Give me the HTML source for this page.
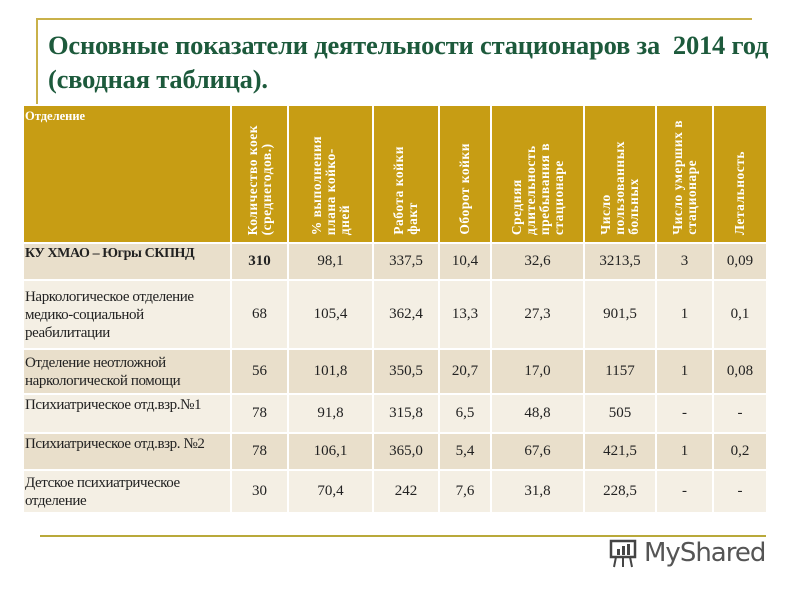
<!DOCTYPE html>
<html><head><meta charset="utf-8"><style>
body{margin:0;width:800px;height:600px;background:#fff;position:relative;overflow:hidden;font-family:"Liberation Serif","Noto Serif CJK SC",serif}
.abs{position:absolute}
.title{left:48px;top:28px;color:#1d5a3c;font-size:26.5px;line-height:34px;font-weight:bold;letter-spacing:-0.2px;white-space:nowrap}
table{position:absolute;left:22px;top:104px;border-collapse:collapse;width:744px;table-layout:fixed}
td{border:2px solid #fff;padding:0;font-size:15px;color:#222;text-align:center;vertical-align:middle;overflow:hidden}
th{border:2px solid #fff;background:#c79d14;color:#fff;height:130px;padding:0;vertical-align:bottom;font-size:13.5px;font-weight:bold;overflow:hidden}
th.first{text-align:left;vertical-align:top;font-size:12.5px;padding:3px 1px}
.v{writing-mode:vertical-rl;transform:rotate(180deg);display:inline-block;text-align:left;line-height:14px;padding:3px 0;letter-spacing:0.5px}
tr.d td{background:#e9dfcb}
tr.l td{background:#f4efe4}
td.n{text-align:left;padding:1px 1px;line-height:18px;font-size:15px;letter-spacing:-0.4px}
</style></head><body>
<div class="abs" style="left:36px;top:18px;width:716px;height:2px;background:#c9b14a"></div>
<div class="abs" style="left:36px;top:18px;width:2px;height:92px;background:#c9b14a"></div>
<div class="abs title">Основные показатели деятельности стационаров за&nbsp; 2014 год<br>(сводная таблица).</div>
<table>
<colgroup><col style="width:208px"><col style="width:57px"><col style="width:85px"><col style="width:66px"><col style="width:52px"><col style="width:93px"><col style="width:72px"><col style="width:57px"><col style="width:54px"></colgroup>
<tr>
<th class="first">Отделение</th>
<th><span class="v">Количество коек<br>(среднегодов.)</span></th>
<th><span class="v">% выполнения<br>плана койко-<br>дней</span></th>
<th><span class="v">Работа койки<br>факт</span></th>
<th><span class="v">Оборот койки</span></th>
<th><span class="v">Средняя<br>длительность<br>пребывания в<br>стационаре</span></th>
<th><span class="v">Число<br>пользованных<br>больных</span></th>
<th><span class="v">Число умерших в<br>стационаре</span></th>
<th><span class="v">Летальность</span></th>
</tr>
<tr class="d" style="height:37px"><td class="n" style="vertical-align:top;font-weight:bold;font-size:14px">КУ ХМАО – Югры СКПНД</td><td style="font-weight:bold">310</td><td>98,1</td><td>337,5</td><td>10,4</td><td>32,6</td><td>3213,5</td><td>3</td><td>0,09</td></tr>
<tr class="l" style="height:69px"><td class="n">Наркологическое отделение<br>медико-социальной<br>реабилитации</td><td>68</td><td>105,4</td><td>362,4</td><td>13,3</td><td>27,3</td><td>901,5</td><td>1</td><td>0,1</td></tr>
<tr class="d" style="height:45px"><td class="n">Отделение неотложной<br>наркологической помощи</td><td>56</td><td>101,8</td><td>350,5</td><td>20,7</td><td>17,0</td><td>1157</td><td>1</td><td>0,08</td></tr>
<tr class="l" style="height:39px"><td class="n" style="vertical-align:top">Психиатрическое отд.взр.№1</td><td>78</td><td>91,8</td><td>315,8</td><td>6,5</td><td>48,8</td><td>505</td><td>-</td><td>-</td></tr>
<tr class="d" style="height:37px"><td class="n" style="vertical-align:top">Психиатрическое отд.взр. №2</td><td>78</td><td>106,1</td><td>365,0</td><td>5,4</td><td>67,6</td><td>421,5</td><td>1</td><td>0,2</td></tr>
<tr class="l" style="height:43px"><td class="n">Детское психиатрическое<br>отделение</td><td>30</td><td>70,4</td><td>242</td><td>7,6</td><td>31,8</td><td>228,5</td><td>-</td><td>-</td></tr>
</table>
<div class="abs" style="left:40px;top:535px;width:726px;height:2px;background:#b9a93a"></div>
<div class="abs" style="left:608px;top:537px;width:32px;height:34px">
<svg width="32" height="34" viewBox="0 0 32 34"><rect x="3" y="4" width="24" height="16" fill="none" stroke="#444" stroke-width="2.5"/><rect x="9" y="12" width="3" height="6" fill="#444"/><rect x="14" y="9" width="3" height="9" fill="#444"/><rect x="19" y="7" width="3" height="11" fill="#444"/><path d="M8 20 L6 30 M15 20 V30 M22 20 L24 30" stroke="#444" stroke-width="2"/></svg></div>
<div class="abs" style="left:644px;top:538px;font-family:'DejaVu Sans',sans-serif;font-size:26px;color:#555;letter-spacing:-1px">MyShared</div>
</body></html>
